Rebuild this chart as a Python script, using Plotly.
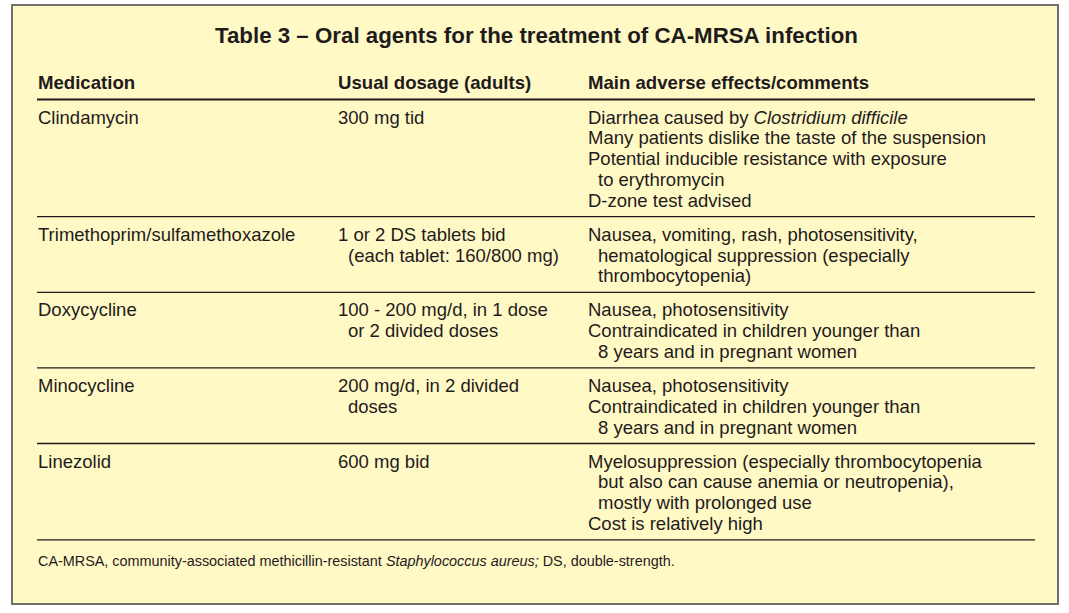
import plotly.graph_objects as go

title = "Table 3 – Oral agents for the treatment of CA-MRSA infection"
headers = ["Medication", "Usual dosage (adults)", "Main adverse effects/comments"]
medications = ["Clindamycin", "Trimethoprim/sulfamethoxazole", "Doxycycline",
               "Minocycline", "Linezolid"]
dosages = [
    ["300 mg tid"],
    ["1 or 2 DS tablets bid", "  (each tablet: 160/800 mg)"],
    ["100 - 200 mg/d, in 1 dose", "  or 2 divided doses"],
    ["200 mg/d, in 2 divided", "  doses"],
    ["600 mg bid"],
]
comments = [
    ["Diarrhea caused by <i>Clostridium difficile</i>",
     "Many patients dislike the taste of the suspension",
     "Potential inducible resistance with exposure",
     "  to erythromycin",
     "D-zone test advised"],
    ["Nausea, vomiting, rash, photosensitivity,",
     "  hematological suppression (especially",
     "  thrombocytopenia)"],
    ["Nausea, photosensitivity",
     "Contraindicated in children younger than",
     "  8 years and in pregnant women"],
    ["Nausea, photosensitivity",
     "Contraindicated in children younger than",
     "  8 years and in pregnant women"],
    ["Myelosuppression (especially thrombocytopenia",
     "  but also can cause anemia or neutropenia),",
     "  mostly with prolonged use",
     "Cost is relatively high"],
]
footnote = ("CA-MRSA, community-associated methicillin-resistant "
            "<i>Staphylococcus aureus;</i> DS, double-strength.")

# layout constants (pixels)
W, H = 1069, 613
COL_X = [38, 338, 588]
PAD = 2            # annotation inner padding compensation
LINE_L, LINE_R = 37, 1035
INDENT = 10
LINE_H = 20.8
FIRST_OFF = 17.5   # from separator to first text line centre
ROW_PAD = 16.5     # from last text line centre to next separator
HEADER_Y = 82
HEADER_LINE_Y = 99.5
TEXT = "#1f1b1c"
BG = "#fff9c6"
FONT = "Liberation Sans, Arial, Helvetica, sans-serif"
BODY = 18.5

fig = go.Figure()
fig.add_trace(go.Scatter(x=[0, W], y=[0, H], mode="markers",
                         marker=dict(opacity=0), hoverinfo="skip", showlegend=False))

shapes = [dict(type="rect", x0=12, y0=5, x1=1058, y1=604,
               fillcolor=BG, line=dict(color="#707070", width=2), layer="below")]
ann = []

def add_text(x, y, t, size=BODY, bold=False):
    ind = 0
    while t.startswith(" "):
        t = t[1:]
        ind += INDENT / 2
    txt = f"<b>{t}</b>" if bold else t
    ann.append(dict(x=x - PAD + ind, y=y, text=txt, showarrow=False, xanchor="left",
                    yanchor="middle", font=dict(family=FONT, size=size, color=TEXT)))

ann.append(dict(x=536, y=35, text=f"<b>{title}</b>", showarrow=False,
                xanchor="center", yanchor="middle",
                font=dict(family=FONT, size=22.3, color=TEXT)))
for cx, h in zip(COL_X, headers):
    add_text(cx, HEADER_Y, h, size=18.6, bold=True)
shapes.append(dict(type="line", x0=LINE_L, x1=LINE_R, y0=HEADER_LINE_Y, y1=HEADER_LINE_Y,
                   line=dict(color=TEXT, width=2.2)))

y_sep = HEADER_LINE_Y
for med, dose, com in zip(medications, dosages, comments):
    y0 = y_sep + FIRST_OFF
    add_text(COL_X[0], y0, med)
    for i, l in enumerate(dose):
        add_text(COL_X[1], y0 + i * LINE_H, l)
    for i, l in enumerate(com):
        add_text(COL_X[2], y0 + i * LINE_H, l)
    n = max(1, len(dose), len(com))
    y_sep = y0 + (n - 1) * LINE_H + ROW_PAD
    shapes.append(dict(type="line", x0=LINE_L, x1=LINE_R, y0=y_sep, y1=y_sep,
                       line=dict(color=TEXT, width=1.3)))

add_text(COL_X[0], y_sep + 21, footnote, size=14.4)

fig.update_layout(
    width=W, height=H, margin=dict(l=0, r=0, t=0, b=0),
    paper_bgcolor="white", plot_bgcolor="white",
    xaxis=dict(range=[0, W], visible=False, fixedrange=True),
    yaxis=dict(range=[H, 0], visible=False, fixedrange=True),
    shapes=shapes, annotations=ann, showlegend=False,
)
fig.write_html("out.html", config={"displayModeBar": False},
               post_script="document.body.style.margin='0';")
